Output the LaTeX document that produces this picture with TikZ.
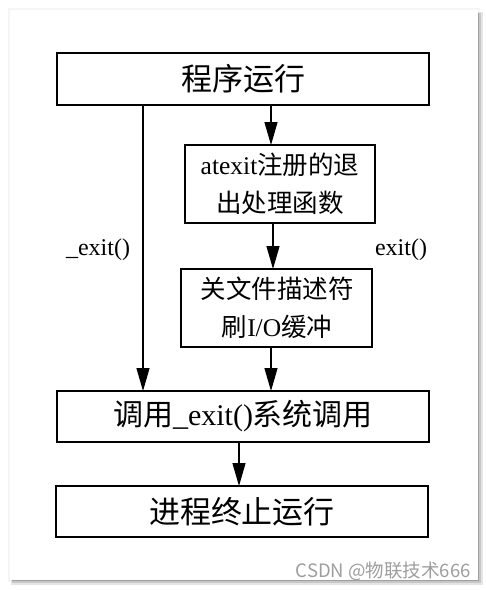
\documentclass[tikz,border=0pt]{standalone}
\usepackage{fontspec}
\setmainfont{Liberation Serif}
\newfontfamily\cjk{Noto Sans CJK SC}
\newfontfamily\wm{Noto Sans CJK SC}
\usetikzlibrary{arrows.meta}
\tikzset{
  boxs/.style={draw=black, line width=1.6pt, fill=white},
  flow/.style={line width=1.3pt, -{Triangle[length=23pt,width=13pt]}},
  lbl/.style={font=\fontsize{24}{26}\selectfont, inner sep=0pt},
  two/.style={align=center, inner sep=0pt, font=\fontsize{25.5}{38}\selectfont},
}
\begin{document}
\begin{tikzpicture}[x=1pt,y=-1pt]
\useasboundingbox (0,0) rectangle (486,590);
% shadow and panel
\fill[black!4] (8,8) rectangle (480,582);
\fill[black!10] (11,12) rectangle (483,585);
\fill[black!22] (12,13) rectangle (481,583);
\fill[black!38] (12,13) rectangle (479,581);
\fill[white] (10,10) rectangle (478,580);
% boxes
\draw[boxs] (57,53) rectangle (429,105);
\node[inner sep=0pt] (ttop) at (243,79) {\cjk\fontsize{31}{33}\selectfont 程序运行};
\draw[boxs] (185,145) rectangle (375,223);
\node[two] (atx) at (280,184) {atexit{\cjk 注册的退}\\{\cjk 出处理函数}};
\draw[boxs] (181,269) rectangle (372,347);
\node[two] (clo) at (277,308) {{\cjk 关文件描述符}\\{\cjk 刷}I/O{\cjk 缓冲}};
\draw[boxs] (57,391) rectangle (429,442);
\node[inner sep=0pt] (call) at (243,416) {\fontsize{30}{32}\selectfont{\cjk 调用}\_exit(){\cjk 系统调用}};
\draw[boxs] (56,486) rectangle (428,537);
\node[inner sep=0pt] (endp) at (242,512) {\cjk\fontsize{31}{33}\selectfont 进程终止运行};
% named anchor points
\coordinate (a1) at (143,105);
\coordinate (a2) at (143,391);
\coordinate (b1) at (271,105);
\coordinate (b2) at (271,145);
\coordinate (c1) at (273,223);
\coordinate (c2) at (273,269);
\coordinate (d1) at (271,347);
\coordinate (d2) at (271,391);
\coordinate (e1) at (239,442);
\coordinate (e2) at (239,486);
\draw[flow] (a1) -- (a2);
\draw[flow] (b1) -- (b2);
\draw[flow] (c1) -- (c2);
\draw[flow] (d1) -- (d2);
\draw[flow] (e1) -- (e2);
% labels
\node[lbl] (l1) at (98,250) {\_exit()};
\node[lbl] (l2) at (401,250) {exit()};
% watermark
\node[inner sep=0pt, text=black!38, anchor=east] (wm) at (471,571) {\wm\fontsize{18.5}{20}\selectfont CSDN @物联技术666};
\end{tikzpicture}
\end{document}
